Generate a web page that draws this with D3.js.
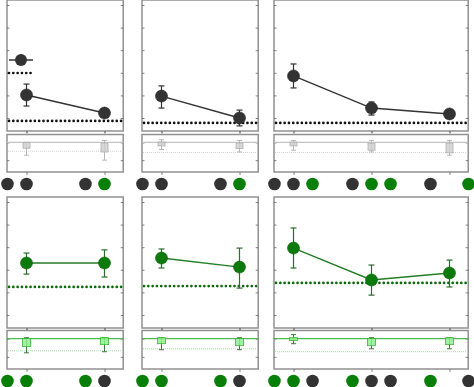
<!DOCTYPE html>
<html>
<head>
<meta charset="utf-8">
<script src="https://cdn.jsdelivr.net/npm/d3@7"></script>
<style>
  html, body { margin: 0; padding: 0; background: #fff; }
  svg { display: block; }
</style>
</head>
<body>
<div id="chart"></div>
<script>
// values (main axis units: tick spacing = 1)
const meanVals   = [[1.02, 0.22], [0.97, 0.00], [1.86, 0.44, 0.18], [2.30, 2.30], [2.52, 2.12], [2.96, 1.55, 1.86]];
const errLow     = [[0.53, 0.04], [0.44, -0.35], [1.33, 0.13, 0.00], [1.81, 1.68], [2.08, 1.19], [2.08, 0.88, 1.24]];
const errHigh    = [[1.50, 0.40], [1.42, 0.35], [2.39, 0.71, 0.31], [2.74, 2.88], [2.92, 2.96], [3.85, 2.21, 2.43]];
const baseline   = [-0.13, -0.22, -0.22, 1.24, 1.28, 1.42];

// small lower panels
const boxLow     = [[-0.33, -0.54], [-0.20, -0.35], [-0.20, -0.44, -0.59], [-0.44, -0.33], [-0.28, -0.39], [-0.10, -0.39, -0.33]];
const boxHigh    = [[0.00, -0.04], [0.02, -0.04], [0.02, -0.04, -0.04], [0.00, 0.05], [0.05, 0.00], [0.05, 0.00, 0.05]];
const whiskLow   = [[-0.72, -1.00], [-0.40, -0.54], [-0.44, -0.54, -0.72], [-0.78, -0.72], [-0.61, -0.61], [-0.28, -0.56, -0.56]];
const whiskHigh  = [[0.00, 0.11], [0.15, 0.11], [0.11, 0.11, 0.11], [0.05, 0.05], [0.05, 0.05], [0.22, 0.05, 0.05]];
const subDotted  = [-0.50, -0.57, -0.57, -0.67, -0.56, -0.72];

// condition dots under each panel: d = dark, g = green, null = none
const dotColors = [
  [["d", "d"], ["d", "g"]],
  [["d", "d"], ["d", "g"]],
  [["d", "d", "g"], ["d", "g", "g"], ["d", null, "g"]],
  [["g", "g"], ["g", "d"]],
  [["g", "g"], ["g", "d"]],
  [["g", "g", "d"], ["g", "d", "d"], ["g", null, "d"]]
];

const mainTicks = [0, 1, 2, 3, 4, 5];
const subTicks = [0, -1];

const W = 474, H = 387;
const svg = d3.select("#chart").append("svg").attr("width", W).attr("height", H);

const colLeft = [7, 142, 274];
const step = 78;
const rowOff = [0, 197];

const theme = [
  { line: "#333", point: "#333", err: "#333", dotted: "#111", subLine: "#c4c4c4", subDot: "#cfcfcf",
    boxFill: "#d0d0d0", boxStroke: "#b0b0b0", whisk: "#b8b8b8" },
  { line: "#237d23", point: "#0b7a0b", err: "#2b6e2b", dotted: "#0b6b0b", subLine: "#4dbb4d", subDot: "#9fd89f",
    boxFill: "#8ef08e", boxStroke: "#3cb43c", whisk: "#3a7a3a" }
];
const dotFill = { d: "#333333", g: "#087f08" };

function dotted(sel, color) {
  return sel.attr("stroke", color).attr("stroke-width", 2.7)
    .attr("stroke-linecap", "round").attr("stroke-dasharray", "0.01,4.3");
}

meanVals.forEach((vals, p) => {
  const row = Math.floor(p / 3), col = p % 3;
  const n = vals.length;
  const th = theme[row];
  const off = rowOff[row];
  const left = colLeft[col];
  const right = left + (n - 1 + 0.49) * step;
  const mainTop = off, mainBottom = off + 131;
  const subTop = off + (row === 0 ? 134.5 : 330.5 - 197), subBottom = off + 172;

  const x = d3.scaleLinear().domain([-0.25, n - 1 + 0.24]).range([left, right]);
  const y = d3.scaleLinear().domain([-0.575, 5.22]).range([mainBottom, mainTop]);
  const ys = d3.scaleLinear().domain([-1.667, 0.444]).range([subBottom, subTop]);
  const idx = d3.range(n);

  const g = svg.append("g");

  // frames
  g.append("rect").attr("x", left).attr("y", mainTop).attr("width", right - left).attr("height", mainBottom - mainTop)
    .attr("fill", "none").attr("stroke", "#919191").attr("stroke-width", 1.5);
  g.append("rect").attr("x", left).attr("y", subTop).attr("width", right - left).attr("height", subBottom - subTop)
    .attr("fill", "none").attr("stroke", "#919191").attr("stroke-width", 1.5);

  // axes ticks
  const tickAxis = (axis, tr) => {
    const a = g.append("g").attr("transform", tr).call(axis);
    a.select(".domain").remove();
    a.selectAll("line").attr("stroke", "#666").attr("stroke-width", 0.8);
  };
  tickAxis(d3.axisLeft(y).tickValues(mainTicks).tickSize(-2.5).tickFormat(""), `translate(${left},0)`);
  tickAxis(d3.axisRight(y).tickValues(mainTicks).tickSize(-2.5).tickFormat(""), `translate(${right},0)`);
  tickAxis(d3.axisLeft(ys).tickValues(subTicks).tickSize(-2.5).tickFormat(""), `translate(${left},0)`);
  tickAxis(d3.axisRight(ys).tickValues(subTicks).tickSize(-2.5).tickFormat(""), `translate(${right},0)`);
  tickAxis(d3.axisBottom(x).tickValues(idx).tickSize(2.5).tickFormat(""), `translate(0,${mainBottom})`);
  tickAxis(d3.axisTop(x).tickValues(idx).tickSize(-2).tickFormat(""), `translate(0,${mainBottom})`);
  tickAxis(d3.axisBottom(x).tickValues(idx).tickSize(3).tickFormat(""), `translate(0,${subBottom})`);

  // baseline (dotted)
  dotted(g.append("line").attr("x1", left + 2).attr("x2", right - 1)
    .attr("y1", y(baseline[p])).attr("y2", y(baseline[p])), th.dotted);

  // mean line
  g.append("path").datum(idx)
    .attr("d", d3.line().x(i => x(i)).y(i => y(vals[i])))
    .attr("fill", "none").attr("stroke", th.line).attr("stroke-width", 1.4);

  // error bars
  idx.forEach(i => {
    const cx = x(i);
    g.append("line").attr("x1", cx).attr("x2", cx).attr("y1", y(errLow[p][i])).attr("y2", y(errHigh[p][i]))
      .attr("stroke", th.err).attr("stroke-width", 1.2);
    [errLow[p][i], errHigh[p][i]].forEach(v => {
      g.append("line").attr("x1", cx - 3).attr("x2", cx + 3).attr("y1", y(v)).attr("y2", y(v))
        .attr("stroke", th.err).attr("stroke-width", 1.2);
    });
  });

  // points
  g.selectAll("circle.pt").data(idx).join("circle").attr("class", "pt")
    .attr("cx", i => x(i)).attr("cy", i => y(vals[i])).attr("r", 6)
    .attr("fill", th.point).attr("stroke", row === 0 ? "#222" : "#066006").attr("stroke-width", 0.6);

  // sub panel lines
  g.append("line").attr("x1", left).attr("x2", right).attr("y1", ys(0)).attr("y2", ys(0))
    .attr("stroke", th.subLine).attr("stroke-width", 1.1);
  g.append("line").attr("x1", left + 1).attr("x2", right - 1).attr("y1", ys(subDotted[p])).attr("y2", ys(subDotted[p]))
    .attr("stroke", th.subDot).attr("stroke-width", 0.9).attr("stroke-dasharray", "1,1");

  // sub panel boxes with whiskers
  idx.forEach(i => {
    const cx = x(i);
    g.append("line").attr("x1", cx).attr("x2", cx).attr("y1", ys(whiskLow[p][i])).attr("y2", ys(whiskHigh[p][i]))
      .attr("stroke", th.whisk).attr("stroke-width", 1);
    [whiskLow[p][i], whiskHigh[p][i]].forEach(v => {
      g.append("line").attr("x1", cx - 2.5).attr("x2", cx + 2.5).attr("y1", ys(v)).attr("y2", ys(v))
        .attr("stroke", th.whisk).attr("stroke-width", 1);
    });
    const bw = row === 0 ? 7 : 8;
    g.append("rect").attr("x", cx - bw / 2).attr("y", ys(boxHigh[p][i]))
      .attr("width", bw).attr("height", Math.max(1.5, ys(boxLow[p][i]) - ys(boxHigh[p][i])))
      .attr("fill", th.boxFill).attr("fill-opacity", 0.85).attr("stroke", th.boxStroke).attr("stroke-width", 0.8);
  });

  // condition dots
  const dotsY = off + 184;
  const spread = n === 2 ? [-1, 0] : [-1, 0, 1];
  dotColors[p].forEach((grp, i) => {
    grp.forEach((c, k) => {
      if (!c) return;
      g.append("circle").attr("cx", x(i + spread[k] * 0.244)).attr("cy", dotsY).attr("r", 6.3)
        .attr("fill", dotFill[c]);
    });
  });

  // legend in first panel
  if (p === 0) {
    g.append("line").attr("x1", 9).attr("x2", 33).attr("y1", 60).attr("y2", 60)
      .attr("stroke", "#333").attr("stroke-width", 1.5);
    g.append("circle").attr("cx", 21).attr("cy", 60).attr("r", 6).attr("fill", "#333");
    dotted(g.append("line").attr("x1", 9).attr("x2", 32).attr("y1", 73).attr("y2", 73), "#111");
  }
});
</script>
</body>
</html>
